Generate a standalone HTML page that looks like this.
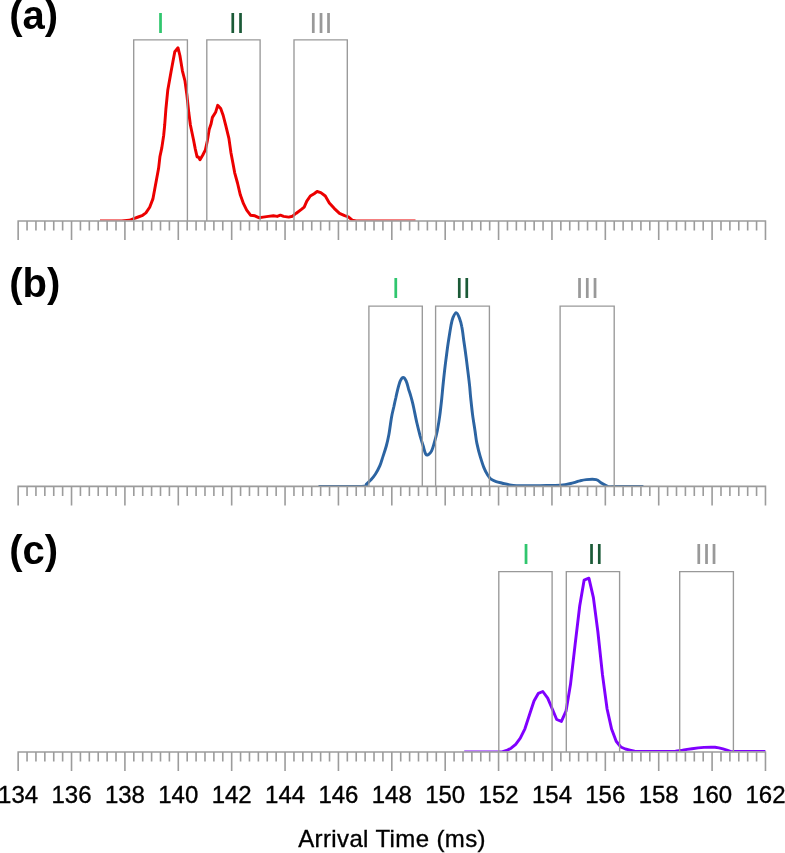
<!DOCTYPE html>
<html><head><meta charset="utf-8"><title>Arrival Time</title>
<style>
html,body{margin:0;padding:0;background:#fff;}
body{width:785px;height:853px;overflow:hidden;position:relative;font-family:"Liberation Sans",Arial,sans-serif;}
svg{position:absolute;left:0;top:0;display:block;}
text{font-family:"Liberation Sans",Arial,sans-serif;}
.pl{font-weight:bold;font-size:40px;fill:#000;}
.tk{font-size:24px;fill:#000;text-anchor:middle;stroke:#000;stroke-width:.35;}
.rl{font-size:29px;text-anchor:middle;letter-spacing:-0.4px;}
.ax{stroke:#9c9c9c;stroke-width:1.6;fill:none;}
.bx{stroke:#999999;stroke-width:1.35;fill:none;}
.cv{fill:none;stroke-width:2.95;stroke-linejoin:round;stroke-linecap:butt;}
</style></head><body>
<svg width="785" height="853" viewBox="0 0 785 853">
<rect x="0" y="0" width="785" height="853" fill="#ffffff"/>

<defs><clipPath id="cp0"><rect x="0" y="-9.0" width="785" height="229.6"/></clipPath></defs>
<path class="cv" clip-path="url(#cp0)" stroke="#ec0000" d="M100.0 221.0L121.7 221.0L129.3 220.3L133.8 218.6L138.2 217.0L142.0 215.7L145.9 212.9L149.7 207.2L152.9 198.9L154.8 188.7L156.7 178.5L158.6 168.3L159.9 156.8L161.8 147.9L163.7 135.2L164.7 125.0L165.9 109.0L167.8 89.9L171.0 72.0L172.9 61.8L174.8 51.7L178.0 47.8L179.9 55.5L182.4 70.8L185.0 81.0L186.9 95.0L188.8 112.8L190.4 125.0L193.6 140.3L195.2 148.6L197.1 156.9L198.4 156.9L200.0 159.8L202.8 155.0L205.4 149.9L207.3 141.0L209.2 129.5L211.1 123.8L212.4 117.4L215.6 112.3L217.7 105.3L220.7 108.5L223.2 115.5L225.8 125.7L228.9 138.4L230.9 152.4L232.8 162.6L234.7 172.8L237.5 183.0L240.3 194.8L243.5 203.7L246.7 210.1L250.5 215.2L254.9 215.8L258.8 217.7L263.2 217.1L268.3 216.4L273.4 215.8L277.2 216.4L280.4 215.2L283.6 216.4L288.7 217.1L292.5 216.2L296.3 213.2L301.4 209.4L304.2 207.1L306.8 201.1L310.3 196.0L314.1 193.7L317.1 191.5L320.8 192.6L325.3 196.0L329.3 202.9L334.4 208.6L339.5 213.4L344.6 215.6L348.4 216.9L352.2 220.1L356.0 220.9L363.7 221.0L415.5 221.0"/>
<path class="bx" d="M133.7 221.0V39.9H187.4V221.0"/>
<path class="bx" d="M206.8 221.0V39.9H260.1V221.0"/>
<path class="bx" d="M294.0 221.0V39.9H347.3V221.0"/>
<path class="ax" d="M17.40 221.0H766.22M18.15 221.0v19.1M27.05 221.0v9.6M35.94 221.0v9.6M44.84 221.0v9.6M53.74 221.0v9.6M62.63 221.0v9.6M71.53 221.0v19.1M80.43 221.0v9.6M89.32 221.0v9.6M98.22 221.0v9.6M107.12 221.0v9.6M116.01 221.0v9.6M124.91 221.0v19.1M133.81 221.0v9.6M142.70 221.0v9.6M151.60 221.0v9.6M160.50 221.0v9.6M169.39 221.0v9.6M178.29 221.0v19.1M187.19 221.0v9.6M196.08 221.0v9.6M204.98 221.0v9.6M213.88 221.0v9.6M222.77 221.0v9.6M231.67 221.0v19.1M240.57 221.0v9.6M249.46 221.0v9.6M258.36 221.0v9.6M267.26 221.0v9.6M276.15 221.0v9.6M285.05 221.0v19.1M293.95 221.0v9.6M302.84 221.0v9.6M311.74 221.0v9.6M320.64 221.0v9.6M329.53 221.0v9.6M338.43 221.0v19.1M347.33 221.0v9.6M356.22 221.0v9.6M365.12 221.0v9.6M374.02 221.0v9.6M382.91 221.0v9.6M391.81 221.0v19.1M400.71 221.0v9.6M409.60 221.0v9.6M418.50 221.0v9.6M427.40 221.0v9.6M436.29 221.0v9.6M445.19 221.0v19.1M454.09 221.0v9.6M462.98 221.0v9.6M471.88 221.0v9.6M480.78 221.0v9.6M489.67 221.0v9.6M498.57 221.0v19.1M507.47 221.0v9.6M516.36 221.0v9.6M525.26 221.0v9.6M534.16 221.0v9.6M543.05 221.0v9.6M551.95 221.0v19.1M560.85 221.0v9.6M569.74 221.0v9.6M578.64 221.0v9.6M587.54 221.0v9.6M596.43 221.0v9.6M605.33 221.0v19.1M614.23 221.0v9.6M623.12 221.0v9.6M632.02 221.0v9.6M640.92 221.0v9.6M649.81 221.0v9.6M658.71 221.0v19.1M667.61 221.0v9.6M676.50 221.0v9.6M685.40 221.0v9.6M694.30 221.0v9.6M703.19 221.0v9.6M712.09 221.0v19.1M720.99 221.0v9.6M729.88 221.0v9.6M738.78 221.0v9.6M747.68 221.0v9.6M756.57 221.0v9.6M765.47 221.0v19.1"/>
<text class="rl" x="160.3" y="32.9" fill="#30c66e">I</text>
<text class="rl" x="236.5" y="32.9" fill="#1b5a37">II</text>
<text class="rl" x="320.8" y="32.9" fill="#999999">III</text>
<defs><clipPath id="cp1"><rect x="0" y="256.4" width="785" height="229.6"/></clipPath></defs>
<path class="cv" clip-path="url(#cp1)" stroke="#2c64a2" d="M318.5 486.4C325.7 486.4 353.5 486.8 361.5 486.4C369.5 486.0 365.0 485.0 366.6 483.9C368.2 482.8 369.5 481.3 371.0 479.7C372.5 478.1 374.0 476.3 375.5 474.0C377.0 471.7 378.6 468.7 379.9 465.7C381.2 462.7 382.0 459.4 383.1 456.1C384.2 452.8 385.3 449.6 386.3 446.0C387.3 442.4 388.0 439.2 388.9 434.5C389.8 429.8 390.6 422.6 391.4 417.9C392.2 413.2 393.1 409.9 393.9 406.5C394.6 403.1 395.2 400.4 395.9 397.5C396.5 394.6 397.1 392.0 397.8 389.2C398.5 386.4 399.4 382.8 400.3 380.9C401.2 378.9 402.2 377.5 403.2 377.5C404.2 377.5 405.2 378.9 406.1 380.9C407.0 382.8 407.8 386.4 408.6 389.2C409.5 392.0 410.4 394.4 411.2 397.5C412.0 400.6 412.8 403.4 413.7 407.7C414.6 411.9 415.8 418.3 416.9 423.0C418.0 427.7 419.1 432.0 420.1 435.8C421.2 439.6 422.2 442.9 423.2 446.0C424.1 449.1 424.9 452.8 425.8 454.2C426.7 455.6 427.4 455.1 428.3 454.6C429.2 454.1 430.5 453.0 431.5 451.1C432.5 449.2 433.1 446.8 434.1 443.4C435.1 440.0 436.4 435.4 437.3 430.7C438.2 426.0 439.1 420.7 439.8 415.4C440.5 410.1 441.1 404.6 441.7 399.0C442.3 393.4 442.7 388.0 443.4 381.5C444.1 375.0 445.0 366.7 445.9 359.9C446.8 353.1 447.6 346.5 448.5 340.8C449.4 335.1 450.3 329.3 451.0 325.5C451.7 321.7 452.0 319.9 452.9 317.8C453.8 315.7 455.0 312.7 456.1 312.7C457.2 312.7 458.4 315.4 459.3 317.8C460.2 320.2 461.1 323.0 461.8 326.8C462.6 330.6 463.1 335.5 463.8 340.8C464.6 346.1 465.6 353.1 466.3 358.6C467.0 364.1 467.6 369.2 468.2 373.9C468.8 378.6 469.3 382.8 469.7 386.6C470.1 390.5 470.1 392.4 470.6 397.0C471.1 401.6 471.8 408.5 472.5 414.1C473.2 419.7 474.3 425.8 475.0 430.7C475.7 435.6 476.0 439.2 476.9 443.4C477.8 447.6 478.9 452.1 480.1 456.1C481.3 460.1 482.6 464.4 483.9 467.6C485.2 470.8 486.6 473.4 487.8 475.3C489.0 477.2 489.6 478.1 491.0 479.1C492.4 480.2 494.2 480.9 496.1 481.6C498.0 482.3 500.3 482.7 502.4 483.2C504.5 483.7 506.5 484.3 508.8 484.7C511.1 485.1 513.0 485.5 516.4 485.7C519.8 485.9 525.3 485.8 529.2 485.8C533.1 485.8 534.8 485.7 540.0 485.6C545.2 485.5 555.1 485.7 560.6 485.3C566.1 484.8 569.9 483.6 573.1 482.9C576.3 482.2 577.5 481.4 579.7 480.9C581.9 480.3 583.5 479.8 586.3 479.6C589.0 479.4 593.7 479.1 596.2 479.6C598.7 480.2 599.3 481.8 601.2 482.9C603.1 484.0 605.5 485.8 607.8 486.4C610.1 487.0 609.1 486.4 615.0 486.4C620.9 486.4 638.7 486.4 643.4 486.4"/>
<path class="bx" d="M368.9 486.4V306.1H422.3V486.4"/>
<path class="bx" d="M435.6 486.4V306.1H489.4V486.4"/>
<path class="bx" d="M560.1 486.4V306.1H614.2V486.4"/>
<path class="ax" d="M17.40 486.4H766.22M18.15 486.4v19.1M27.05 486.4v9.6M35.94 486.4v9.6M44.84 486.4v9.6M53.74 486.4v9.6M62.63 486.4v9.6M71.53 486.4v19.1M80.43 486.4v9.6M89.32 486.4v9.6M98.22 486.4v9.6M107.12 486.4v9.6M116.01 486.4v9.6M124.91 486.4v19.1M133.81 486.4v9.6M142.70 486.4v9.6M151.60 486.4v9.6M160.50 486.4v9.6M169.39 486.4v9.6M178.29 486.4v19.1M187.19 486.4v9.6M196.08 486.4v9.6M204.98 486.4v9.6M213.88 486.4v9.6M222.77 486.4v9.6M231.67 486.4v19.1M240.57 486.4v9.6M249.46 486.4v9.6M258.36 486.4v9.6M267.26 486.4v9.6M276.15 486.4v9.6M285.05 486.4v19.1M293.95 486.4v9.6M302.84 486.4v9.6M311.74 486.4v9.6M320.64 486.4v9.6M329.53 486.4v9.6M338.43 486.4v19.1M347.33 486.4v9.6M356.22 486.4v9.6M365.12 486.4v9.6M374.02 486.4v9.6M382.91 486.4v9.6M391.81 486.4v19.1M400.71 486.4v9.6M409.60 486.4v9.6M418.50 486.4v9.6M427.40 486.4v9.6M436.29 486.4v9.6M445.19 486.4v19.1M454.09 486.4v9.6M462.98 486.4v9.6M471.88 486.4v9.6M480.78 486.4v9.6M489.67 486.4v9.6M498.57 486.4v19.1M507.47 486.4v9.6M516.36 486.4v9.6M525.26 486.4v9.6M534.16 486.4v9.6M543.05 486.4v9.6M551.95 486.4v19.1M560.85 486.4v9.6M569.74 486.4v9.6M578.64 486.4v9.6M587.54 486.4v9.6M596.43 486.4v9.6M605.33 486.4v19.1M614.23 486.4v9.6M623.12 486.4v9.6M632.02 486.4v9.6M640.92 486.4v9.6M649.81 486.4v9.6M658.71 486.4v19.1M667.61 486.4v9.6M676.50 486.4v9.6M685.40 486.4v9.6M694.30 486.4v9.6M703.19 486.4v9.6M712.09 486.4v19.1M720.99 486.4v9.6M729.88 486.4v9.6M738.78 486.4v9.6M747.68 486.4v9.6M756.57 486.4v9.6M765.47 486.4v19.1"/>
<text class="rl" x="395.6" y="297.6" fill="#30c66e">I</text>
<text class="rl" x="462.8" y="297.6" fill="#1b5a37">II</text>
<text class="rl" x="587.1" y="297.6" fill="#999999">III</text>
<defs><clipPath id="cp2"><rect x="0" y="522.0" width="785" height="229.6"/></clipPath></defs>
<path class="cv" clip-path="url(#cp2)" stroke="#8000ff" d="M464.2 752.0L490.0 752.0L502.0 752.0L506.6 750.5L511.1 748.2L515.7 744.3L520.3 738.2L524.9 728.8L529.4 715.0L534.0 701.0L538.4 693.3L542.8 691.5L547.7 698.2L552.3 709.0L556.7 719.5L561.4 721.4L566.0 711.2L570.5 684.3L575.1 644.7L579.7 606.0L584.1 580.2L588.9 578.2L593.4 597.6L597.9 632.0L602.5 674.9L607.1 709.0L611.6 729.1L616.2 741.3L620.8 747.0L625.4 749.0L630.0 750.1L634.6 751.1L646.2 751.5L669.2 751.5L675.5 751.2L682.5 750.2L687.1 749.4L692.0 748.7L698.2 747.9L704.0 747.4L711.0 747.1L715.0 747.3L718.9 747.9L723.0 748.9L726.9 750.1L731.0 751.7L734.8 751.5L765.4 751.4"/>
<path class="bx" d="M498.8 752.0V571.6H552.1V752.0"/>
<path class="bx" d="M566.3 752.0V571.6H619.6V752.0"/>
<path class="bx" d="M679.7 752.0V571.6H733.4V752.0"/>
<path class="ax" d="M17.40 752.0H766.22M18.15 752.0v19.1M27.05 752.0v9.6M35.94 752.0v9.6M44.84 752.0v9.6M53.74 752.0v9.6M62.63 752.0v9.6M71.53 752.0v19.1M80.43 752.0v9.6M89.32 752.0v9.6M98.22 752.0v9.6M107.12 752.0v9.6M116.01 752.0v9.6M124.91 752.0v19.1M133.81 752.0v9.6M142.70 752.0v9.6M151.60 752.0v9.6M160.50 752.0v9.6M169.39 752.0v9.6M178.29 752.0v19.1M187.19 752.0v9.6M196.08 752.0v9.6M204.98 752.0v9.6M213.88 752.0v9.6M222.77 752.0v9.6M231.67 752.0v19.1M240.57 752.0v9.6M249.46 752.0v9.6M258.36 752.0v9.6M267.26 752.0v9.6M276.15 752.0v9.6M285.05 752.0v19.1M293.95 752.0v9.6M302.84 752.0v9.6M311.74 752.0v9.6M320.64 752.0v9.6M329.53 752.0v9.6M338.43 752.0v19.1M347.33 752.0v9.6M356.22 752.0v9.6M365.12 752.0v9.6M374.02 752.0v9.6M382.91 752.0v9.6M391.81 752.0v19.1M400.71 752.0v9.6M409.60 752.0v9.6M418.50 752.0v9.6M427.40 752.0v9.6M436.29 752.0v9.6M445.19 752.0v19.1M454.09 752.0v9.6M462.98 752.0v9.6M471.88 752.0v9.6M480.78 752.0v9.6M489.67 752.0v9.6M498.57 752.0v19.1M507.47 752.0v9.6M516.36 752.0v9.6M525.26 752.0v9.6M534.16 752.0v9.6M543.05 752.0v9.6M551.95 752.0v19.1M560.85 752.0v9.6M569.74 752.0v9.6M578.64 752.0v9.6M587.54 752.0v9.6M596.43 752.0v9.6M605.33 752.0v19.1M614.23 752.0v9.6M623.12 752.0v9.6M632.02 752.0v9.6M640.92 752.0v9.6M649.81 752.0v9.6M658.71 752.0v19.1M667.61 752.0v9.6M676.50 752.0v9.6M685.40 752.0v9.6M694.30 752.0v9.6M703.19 752.0v9.6M712.09 752.0v19.1M720.99 752.0v9.6M729.88 752.0v9.6M738.78 752.0v9.6M747.68 752.0v9.6M756.57 752.0v9.6M765.47 752.0v19.1"/>
<text class="rl" x="525.9" y="563.6" fill="#30c66e">I</text>
<text class="rl" x="595.2" y="563.6" fill="#1b5a37">II</text>
<text class="rl" x="706.3" y="563.6" fill="#999999">III</text>
<text class="pl" x="9.3" y="29.4">(a)</text>
<text class="pl" x="9.3" y="297.2">(b)</text>
<text class="pl" x="9.3" y="563.7">(c)</text>
<text class="tk" x="18.1" y="803">134</text>
<text class="tk" x="71.5" y="803">136</text>
<text class="tk" x="124.9" y="803">138</text>
<text class="tk" x="178.3" y="803">140</text>
<text class="tk" x="231.7" y="803">142</text>
<text class="tk" x="285.1" y="803">144</text>
<text class="tk" x="338.4" y="803">146</text>
<text class="tk" x="391.8" y="803">148</text>
<text class="tk" x="445.2" y="803">150</text>
<text class="tk" x="498.6" y="803">152</text>
<text class="tk" x="552.0" y="803">154</text>
<text class="tk" x="605.3" y="803">156</text>
<text class="tk" x="658.7" y="803">158</text>
<text class="tk" x="712.1" y="803">160</text>
<text class="tk" x="765.5" y="803">162</text>
<text x="298.2" y="847.2" font-size="24" fill="#000" stroke="#000" stroke-width=".35" textLength="187.3" lengthAdjust="spacing">Arrival Time (ms)</text>
</svg></body></html>
